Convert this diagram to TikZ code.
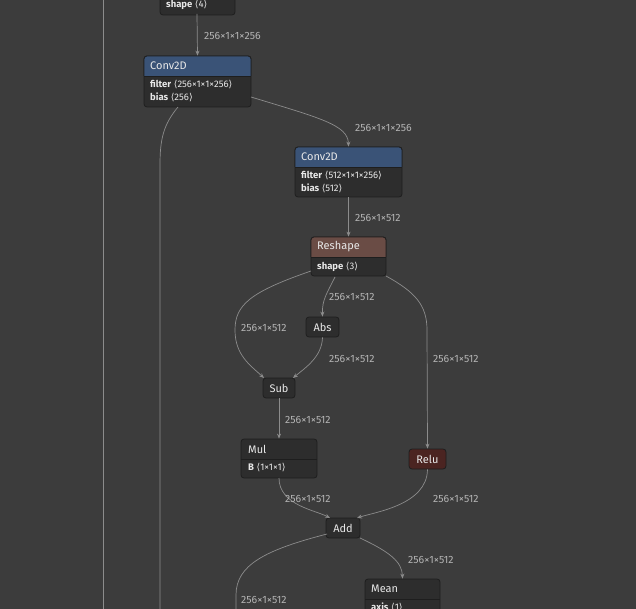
\documentclass[tikz,border=0pt]{standalone}
\usepackage{fontspec}
\setmainfont{Fira Sans}
\newfontfamily\dv{DejaVu Sans}
\newcommand{\la}{{\dv\char"27E8}}
\newcommand{\ra}{{\dv\char"27E9}}
\usetikzlibrary{arrows.meta}
\definecolor{bg}{HTML}{3C3C3C}
\definecolor{nodefill}{HTML}{2D2D2D}
\definecolor{nodeline}{HTML}{1E1E1E}
\definecolor{convc}{HTML}{3A5377}
\definecolor{reshc}{HTML}{6A4C45}
\definecolor{reluc}{HTML}{4B2421}
\definecolor{edgec}{HTML}{8C8C8C}
\definecolor{labc}{HTML}{B4B4B4}
\definecolor{txtc}{HTML}{E8E8E8}
\tikzset{
  box/.style={draw=nodeline, fill=nodefill, rounded corners=3pt, line width=0.8pt, inner sep=0pt},
  ttl/.style={text=txtc, font=\fontsize{11}{12}\selectfont, anchor=west, inner sep=0pt},
  attr/.style={text=txtc, font=\fontsize{9.5}{10}\selectfont, anchor=west, inner sep=0pt},
  lab/.style={text=labc, font=\fontsize{10.5}{11}\selectfont, anchor=west, inner sep=0pt},
  edge/.style={draw=edgec, line width=0.7pt, -{Stealth[length=5pt,width=4pt]}},
  line/.style={draw=edgec, line width=0.7pt},
}
\newcommand{\hdr}[5]{% x1 y1 x2 yh color
  \fill[#5] (#1,#4) [rounded corners=3pt] -- (#1,#2) -- (#3,#2) [sharp corners] -- (#3,#4) -- cycle;
  \draw[nodeline, line width=0.8pt] (#1,#4) -- (#3,#4);
  \draw[nodeline, line width=0.8pt, rounded corners=3pt] (#1,#4) -- (#1,#2) -- (#3,#2) -- (#3,#4);}
\begin{document}
\begin{tikzpicture}[x=1pt,y=-1pt]
\fill[bg] (0,0) rectangle (636,609);
\useasboundingbox (0,0) rectangle (636,609);
% long lines
\coordinate (ltop) at (103,0); \coordinate (lbot) at (103,609);
\draw[line] (ltop) -- (lbot);
% top partial node
\node[box, minimum width=75pt, minimum height=30pt] (shp) at (197.5,0) {};
\node[attr] (shpa) at (166,5) {\textbf{shape} \la4\ra};
% Conv2D 1
\node[box, minimum width=107pt, minimum height=51pt] (c1) at (197.5,81.5) {};
\hdr{144}{56}{251}{76}{convc}
\node[ttl] (c1t) at (150,66) {Conv2D};
\node[attr] (c1a) at (150,85) {\textbf{filter} \la256×1×1×256\ra};
\node[attr] (c1b) at (150,97) {\textbf{bias} \la256\ra};
% Conv2D 2
\node[box, minimum width=107pt, minimum height=50pt] (c2) at (348.5,172) {};
\hdr{295}{147}{402}{167}{convc}
\node[ttl] (c2t) at (301,157) {Conv2D};
\node[attr] (c2a) at (301,176) {\textbf{filter} \la512×1×1×256\ra};
\node[attr] (c2b) at (301,188) {\textbf{bias} \la512\ra};
% Reshape
\node[box, minimum width=75pt, minimum height=39pt] (rs) at (348.5,256.5) {};
\hdr{311}{237}{386}{257}{reshc}
\node[ttl] (rst) at (317,247) {Reshape};
\node[attr] (rsa) at (317,267) {\textbf{shape} \la3\ra};
% Abs, Sub
\node[box, minimum width=33pt, minimum height=20pt, text=txtc, font=\fontsize{11}{12}\selectfont] (abs) at (322.5,327) {Abs};
\node[box, minimum width=32pt, minimum height=20pt, text=txtc, font=\fontsize{11}{12}\selectfont] (sub) at (279,388) {Sub};
% Mul
\node[box, minimum width=76pt, minimum height=39pt] (mul) at (279,458.5) {};
\node[ttl] (mult) at (248,449) {Mul};
\draw[nodeline, line width=0.8pt] (241,459) -- (317,459);
\node[attr] (mula) at (248,468) {\textbf{B} \la1×1×1\ra};
% Relu
\node[box, fill=reluc, minimum width=37pt, minimum height=20pt, text=txtc, font=\fontsize{11}{12}\selectfont] (relu) at (427.5,459) {Relu};
% Add
\node[box, minimum width=34pt, minimum height=20pt, text=txtc, font=\fontsize{11}{12}\selectfont] (add) at (343,528) {Add};
% Mean
\node[box, minimum width=75pt, minimum height=50pt] (mean) at (402.5,604) {};
\node[ttl] (meant) at (371,589) {Mean};
\draw[nodeline, line width=0.8pt] (365,599) -- (440,599);
\node[attr] (meana) at (371,607) {\textbf{axis} \la1\ra};
% edges
\draw[edge] (197,14) -- (c1.north);
\node[lab] at (204,36) {256×1×1×256};
\draw[edge] (251,97) .. controls (320,118) and (348,125) .. (c2.north);
\node[lab] at (355,128) {256×1×1×256};
\coordinate (cb) at (160,609);
\draw[line] (178,107) .. controls (163,125) and (160,140) .. (160,165) -- (cb);
\draw[edge] (c2.south) -- (rs.north);
\node[lab] at (355,218) {256×1×512};
\draw[edge] (311,271) .. controls (250,292) and (235,305) .. (235,330) .. controls (235,355) and (250,365) .. (264,378);
\node[lab] at (241,328) {256×1×512};
\draw[edge] (335,277) .. controls (327,293) and (322,300) .. (abs.north);
\node[lab] at (329,297) {256×1×512};
\draw[edge] (abs.south) .. controls (322,357) and (305,368) .. (293,378);
\node[lab] at (329,359) {256×1×512};
\draw[edge] (386,276) .. controls (415,292) and (427,305) .. (427,330) -- (relu.north);
\node[lab] at (433,359) {256×1×512};
\draw[edge] (sub.south) -- (mul.north);
\node[lab] at (285,420) {256×1×512};
\draw[edge] (279,478) .. controls (279,505) and (315,510) .. (330,518);
\node[lab] at (285,499) {256×1×512};
\draw[edge] (relu.south) .. controls (427,505) and (375,512) .. (357,518);
\node[lab] at (433,499) {256×1×512};
\coordinate (ab) at (236,609);
\draw[line] (327,534) .. controls (265,550) and (236,565) .. (236,595) -- (ab);
\node[lab] at (241,600) {256×1×512};
\draw[edge] (360,538) .. controls (390,552) and (402,562) .. (mean.north);
\node[lab] at (408,560) {256×1×512};
\end{tikzpicture}
\end{document}
